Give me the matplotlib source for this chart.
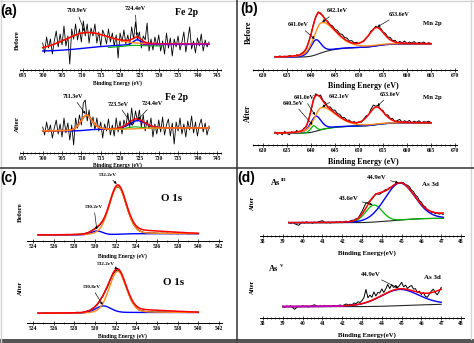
import numpy as np
import matplotlib.pyplot as plt
from matplotlib.lines import Line2D
from matplotlib.patches import Rectangle
from matplotlib.ticker import MultipleLocator

plt.rcParams['font.family'] = ['Liberation Serif', 'DejaVu Serif']
plt.rcParams['font.weight'] = 'bold'

W, H = 474, 343

# ---------------- (a) Fe 2p ----------------
fe_energy = np.linspace(700, 743, 87)
fe_before = [27, 17, 33, 22, 31, 16, 29, 39, 23, 36,
             25, 44, 24, 34, 6, 41, 31, 46, 30, 41,
             28, 49, 34, 46, 27, 42, 34, 46, 27, 38,
             24, 40, 35, 26, 41, 28, 37, 24, 35, 12,
             37, 28, 40, 26, 35, 25, 43, 31, 48, 30,
             38, 22, 34, 30, 47, 19, 31, 20, 33, 24,
             35, 19, 29, 16, 37, 22, 32, 14, 31, 23,
             34, 20, 28, 38, 18, 30, 43, 21, 29, 17,
             32, 24, 36, 19, 30, 23, 28]
fe_after = [26, 18, 31, 21, 28, 15, 25, 33, 19, 29,
            16, 35, 20, 30, 13, 28, 8, 35, 25, 38,
            28, 50, 53, 32, 43, 26, 36, 23, 35, 22,
            31, 15, 29, 22, 34, 18, 28, 17, 35, 21,
            32, 19, 33, 26, 40, 26, 45, 29, 42, 32,
            43, 26, 38, 22, 33, 24, 35, 16, 29, 19,
            33, 21, 36, 18, 28, 34, 17, 30, 9, 31,
            22, 35, 19, 29, 16, 32, 23, 37, 20, 31,
            17, 28, 34, 21, 30, 18, 27]
# fitted peaks: centre (eV), height, fwhm, lorentz fraction[, fwhm on high-BE side]
fe_b_main = (710.9, 15.5, 14.0, 0.3)
fe_b_2p1 = (724.4, 5.0, 2.5, 0.3)
fe_b_minor = (723.0, 1.2, 5.0, 0.0)
fe_b_bg = (19.0, 25.7)
fe_a_main = (711.3, 15.0, 3.5, 0.3)
fe_a_2p1 = (724.4, 8.0, 5.0, 0.3)
fe_a_minor = (723.5, 2.0, 4.0, 0.0)
fe_a_bg = (22.0, 25.0)

# ---------------- (b) Mn 2p ----------------
mn_energy = np.linspace(632.5, 665, 66)
mn_b_resid = [0.5, -0.5, 0.8, -0.3, 0.4, -0.6, 0.7, 0.0, -0.5, 0.6,
              -0.4, 0.5, 0.3, -0.6, 0.4, -0.5, 0.8, 0.0, 1.0, -0.8,
              0.6, -0.4, 1.2, 0.3, 1.8, 1.0, 2.5, 1.5, 3.0, 1.8,
              2.6, 1.0, 2.2, 0.5, 1.2, -0.5, 0.3, -0.8, 0.5, -0.4,
              1.0, -0.6, 1.4, 0.2, 1.6, 0.4, 2.0, 0.8, 2.4, 0.6,
              1.8, -0.4, 1.5, 0.2, 2.2, -0.3, 1.4, 0.5, 1.9, -0.2,
              1.2, 0.3, 1.6, -0.4, 0.9, 0.2]
mn_a_resid = [1.0, -1.5, 0.5, -2.0, 1.2, -0.8, -2.2, 0.6, -1.4, 1.5,
              -0.6, -1.8, 0.8, -1.0, 0.4, -0.6, 1.2, 2.0, -0.5, 2.5,
              0.4, 1.8, -0.3, 2.2, 1.0, 3.0, 1.5, 2.4, 0.8, 2.0,
              0.5, 1.6, -0.4, 1.0, -0.8, 0.4, -1.0, 0.6, 1.5, -0.5,
              2.2, 3.5, 0.8, 2.0, -0.5, 1.4, -0.6, 2.2, 0.5, 1.8,
              -0.8, 1.2, 2.5, -0.4, 1.6, 0.3, 2.0, -0.6, 1.4, 0.2,
              1.8, -0.5, 1.0, 0.4, 1.5, 0.0]
mn_b_641 = (641.0, 15.0, 2.6, 0.3)
mn_b_642 = (642.1, 30.0, 3.6, 0.3, 7.0)
mn_b_653 = (653.6, 17.5, 3.8, 0.3)
mn_b_bg = (12.7, 26.0)
mn_a_640 = (640.5, 6.0, 1.4, 0.2)
mn_a_641 = (641.0, 15.0, 2.6, 0.3)
mn_a_642 = (642.1, 22.0, 3.4, 0.3, 7.0)
mn_a_653 = (653.6, 17.0, 3.8, 0.35)
mn_a_bg = (11.7, 22.0)

# ---------------- (c) O 1s ----------------
o_energy = np.linspace(524.5, 540, 63)
o_b_resid = [0.2, -0.1, 0.1, 0.0, -0.2, 0.1, 0.2, -0.1, 0.0, 0.1,
             -0.1, 0.2, 0.0, -0.2, 0.1, 0.0, 0.2, -0.1, 0.1, 0.3,
             0.2, 0.4, 0.1, -0.2, 0.3, 0.5, 0.2, -0.3, 0.4, 0.6,
             0.2, -0.4, 0.3, 0.5, -0.2, 0.1, 0.3, -0.1, 0.2, 0.0,
             0.1, -0.2, 0.1, 0.0, -0.1, 0.2, 0.0, -0.1, 0.1, 0.0,
             0.2, -0.1, 0.0, 0.1, -0.2, 0.1, 0.0, 0.2, -0.1, 0.0,
             0.1, -0.1, 0.0]
o_a_resid = [0.1, -0.2, 0.0, 0.2, -0.1, 0.1, 0.0, -0.2, 0.1, 0.2,
             -0.1, 0.0, 0.2, -0.1, 0.1, 0.3, 0.0, -0.2, 0.2, 0.4,
             0.1, 0.5, 0.3, -0.2, 0.6, 0.2, 0.4, -0.3, 0.5, 0.3,
             -0.2, 0.4, 0.6, -0.3, 0.2, 0.4, -0.1, 0.3, 0.1, -0.2,
             0.2, 0.0, -0.1, 0.2, 0.1, -0.2, 0.0, 0.1, -0.1, 0.2,
             0.0, -0.2, 0.1, 0.0, 0.2, -0.1, 0.1, 0.0, -0.1, 0.1,
             0.0, 0.1, -0.1]
o_b_530 = (530.2, 4.0, 1.3, 0.2)
o_b_532 = (532.2, 48.0, 1.95, 0.15)
o_b_tail = (535.0, 2.5, 6.0, 0.0)
o_b_bg = (5.7, 7.0)
o_a_530 = (530.8, 7.3, 1.8, 0.2)
o_a_532 = (532.2, 41.5, 1.95, 0.15)
o_a_tail = (535.0, 2.0, 6.0, 0.0)
o_a_bg = (10.0, 10.8)

# ---------------- (d) As 3d ----------------
as3_energy = np.linspace(39.3, 47.1, 79)
as5_energy = np.linspace(39.0, 47.0, 81)
as3_resid = [0.5, -0.8, 0.3, -1.2, -2.0, -2.8, -1.0, 0.4, -0.6, 0.8,
             -0.4, 0.2, -0.9, 0.5, -0.3, 0.6, 1.2, 1.8, 0.3, -0.5,
             0.4, -0.7, 0.2, -0.4, 0.6, -0.2, 0.5, -0.6, 0.3, 0.8,
             -0.3, 0.5, 1.0, 0.2, 0.9, -0.4, 1.5, 2.5, 4.0, 5.0,
             2.0, 0.5, -1.0, -0.5, 0.8, -0.8, -1.5, -0.5, 0.6, 1.2,
             0.3, 0.8, -0.4, 0.2, -0.6, 0.4, -0.3, 0.6, 1.0, 0.5,
             1.8, 2.5, 1.6, 2.8, 2.0, 3.0, 1.5, 2.2, 0.8, 1.4,
             -0.3, 0.6, -0.8, 0.4, -1.0, 0.2, -1.2, -0.4, -1.5]
as5_resid = [0.5, -0.8, 0.6, -0.4, 0.9, -1.2, -2.8, -1.0, 0.3, -0.6,
             0.8, -0.3, 0.5, -0.7, 0.2, 0.9, 1.6, 0.4, -0.5, 0.6,
             -0.4, 0.7, -0.2, 0.5, -0.6, 0.3, 0.8, -0.3, 0.6, 1.0,
             0.2, 0.9, 1.8, 0.5, 1.2, 0.4, 2.0, 1.0, 2.6, 1.5,
             3.0, 5.5, 13.0, 4.0, 6.0, 3.0, 7.5, 2.5, 5.0, 3.5,
             6.5, 2.0, 4.5, 8.0, 3.0, 6.0, 2.5, 4.0, 1.5, 3.5,
             6.5, 2.0, 4.0, 1.0, 3.5, 5.0, 2.0, 3.0, -0.5, 1.5,
             -1.5, 0.5, -3.0, -4.0, -1.0, 1.5, 3.0, -1.0, -4.0, -1.5,
             2.0]
as3_436 = (43.6, 17.0, 1.0, 0.1)
as3_449 = (44.9, 37.0, 1.8, 0.1)
as3_tail = (47.6, 5.0, 2.0, 0.0)
as3_bg = (13.0, 17.4)
as5_449 = (44.9, 16.2, 2.3, 0.2)
as5_tail = (47.5, 16.0, 1.9, 0.3)
as5_bg = (11.3, 13.7)

RED = '#ff0000'
ORANGE = '#ff8c1a'
BLUE = '#0000ff'
GREEN = '#00b400'
PURPLE = '#9a00c8'
BASE = '#262626'


def pv(e, c, h, w, eta, w_hi=None):
    # pseudo-Voigt line shape, optionally wider on the high binding-energy side
    if w_hi is not None:
        w = np.where(e < c, w, w_hi)
    x = (e - c) / w
    return h * (eta / (1 + 4 * x ** 2) + (1 - eta) * np.exp(-4 * np.log(2) * x ** 2))


def shirley(e, signal, lo, hi):
    acc = np.cumsum(signal)
    return lo + (hi - lo) * acc / acc[-1]


fig = plt.figure(figsize=(W / 100, H / 100), dpi=100)


def spec_axes(x0, x1, xlim, top, base, major, minor):
    ax = fig.add_axes([x0 / W, 1 - base / H, (x1 - x0) / W, (base - top) / H])
    ax.set_xlim(*xlim)
    ax.set_ylim(0, base - top)
    ax.patch.set_visible(False)
    for side in ('left', 'right', 'top'):
        ax.spines[side].set_visible(False)
    ax.spines['bottom'].set_linewidth(0.7)
    ax.set_yticks([])
    ax.xaxis.set_major_locator(MultipleLocator(major))
    ax.xaxis.set_minor_locator(MultipleLocator(minor))
    ax.tick_params(axis='x', which='major', direction='inout', length=2.6,
                   width=0.5, pad=0.8, labelsize=4)
    ax.tick_params(axis='x', which='minor', direction='inout', length=1.4, width=0.4)
    return ax


def txt(x, y, s, size, **kw):
    fig.text(x / W, 1 - y / H, s, fontsize=size, ha='center', va='center', **kw)


def callout(ax, label, e, grid, curve, xytext, size):
    y = curve[np.argmin(np.abs(grid - e))]
    ax.annotate(label, xy=(e, y), xytext=xytext, fontsize=size, ha='center',
                va='center', annotation_clip=False,
                arrowprops=dict(arrowstyle='-|>', color='k', lw=0.45,
                                mutation_scale=3.5, shrinkA=0.5, shrinkB=1.0))


# ---- (a) Fe 2p before ----
ax = spec_axes(19.5, 221, (694.0, 746.1), 0, 70, 5, 1)
e = np.linspace(700, 743, 431)
main, p2, minor = pv(e, *fe_b_main), pv(e, *fe_b_2p1), pv(e, *fe_b_minor)
bg = shirley(e, main + p2 + minor, *fe_b_bg)
env = bg + main + p2 + minor
ax.plot(fe_energy, fe_before, color='k', lw=0.6)
m = e <= 727
ax.plot(e[m], (bg + p2)[m], color=BLUE, lw=1.0)
m = (e >= 717) & (e <= 731)
ax.plot(e[m], (bg + minor)[m] - 1.5, color=GREEN, lw=0.8)
ax.plot(e, bg + main, color=ORANGE, lw=1.0)
ax.plot(e, env, color=RED, lw=1.1)
m = e >= 726
ax.plot(e[m], bg[m], color=PURPLE, lw=1.1)
callout(ax, '710.9eV', 710.9, e, env, (708.8, 59), 4.4)
callout(ax, '724.4eV', 724.4, e, env, (723.9, 61), 4.4)
ax.text(737.2, 57.3, 'Fe 2p', fontsize=7, ha='center', va='center')
txt(117.8, 83, 'Binding Energy (eV)', 4)
txt(17, 40, 'Before', 5, rotation=90)

# ---- (a) Fe 2p after ----
ax = spec_axes(19.5, 221, (694.0, 746.1), 85, 153, 5, 1)
main, p2, minor = pv(e, *fe_a_main), pv(e, *fe_a_2p1), pv(e, *fe_a_minor)
bg = shirley(e, main + p2 + minor, *fe_a_bg)
env = bg + main + p2 + minor
ax.plot(fe_energy, fe_after, color='k', lw=0.6)
ax.plot(e, bg + p2, color=BLUE, lw=1.0)
m = (e >= 717) & (e <= 731)
ax.plot(e[m], (bg + minor)[m], color=GREEN, lw=0.8)
ax.plot(e, env, color=RED, lw=1.1)
ax.plot(e, bg + main, color=ORANGE, lw=1.0)
callout(ax, '711.3eV', 711.3, e, env, (707.8, 56.3), 4.4)
callout(ax, '723.5eV', 723.5, e, bg + minor, (719.5, 48.7), 4.4)
callout(ax, '724.4eV', 724.4, e, bg + p2, (728.4, 49.2), 4.4)
ax.text(734.6, 56, 'Fe 2p', fontsize=7, ha='center', va='center')
txt(117.8, 165, 'Binding Energy (eV)', 4)
txt(17, 124, 'After', 5, rotation=90)

# ---- (b) Mn 2p before ----
ax = spec_axes(252.9, 456.9, (627.9, 670.4), 0, 70, 5, 1)
e = np.linspace(632.5, 665, 326)
p641, p642, p653 = pv(e, *mn_b_641), pv(e, *mn_b_642), pv(e, *mn_b_653)
bg = shirley(e, p641 + p642 + p653, *mn_b_bg)
env = bg + p641 + p642 + p653
ax.plot(mn_energy, env[::5] + np.array(mn_b_resid), color='k', lw=0.7)
ax.plot(e, bg, color=BASE, lw=0.8)
ax.plot(e, bg + p641, color=BLUE, lw=1.0)
ax.plot(e, bg + p642, color=ORANGE, lw=1.0)
ax.plot(e, env, color=RED, lw=1.1)
callout(ax, '642.1eV', 642.1, e, bg + p642, (645.4, 59), 4.4)
callout(ax, '641.0eV', 641.0, e, bg + p641, (637.4, 45), 4.4)
callout(ax, '653.6eV', 653.6, e, env, (658.3, 55.7), 4.4)
ax.text(665.2, 46, 'Mn 2p', fontsize=4.8, ha='center', va='center')
txt(363.7, 86, 'Binding Energy (eV)', 5.7)
txt(248.7, 32.5, 'Before', 6, rotation=90)

# ---- (b) Mn 2p after ----
ax = spec_axes(252.9, 456.9, (627.9, 670.4), 88, 145, 5, 1)
p640, p641 = pv(e, *mn_a_640), pv(e, *mn_a_641)
p642, p653 = pv(e, *mn_a_642), pv(e, *mn_a_653)
bg = shirley(e, p640 + p641 + p642 + p653, *mn_a_bg)
env = bg + p640 + p641 + p642 + p653
ax.plot(mn_energy, env[::5] + np.array(mn_a_resid), color='k', lw=0.7)
ax.plot(e, bg, color=BASE, lw=0.8)
ax.plot(e, bg + p640, color=GREEN, lw=0.9)
ax.plot(e, bg + p641, color=BLUE, lw=1.0)
ax.plot(e, bg + p642, color=ORANGE, lw=1.0)
ax.plot(e, env, color=RED, lw=1.1)
callout(ax, '641.0eV', 641.0, e, bg + p641, (638.5, 47.3), 4.4)
callout(ax, '642.1eV', 642.1, e, bg + p642, (645.8, 48.3), 4.4)
callout(ax, '640.5eV', 640.5, e, bg + p640, (636.4, 41.7), 4.4)
callout(ax, '653.6eV', 653.6, e, env, (656.5, 50.7), 4.4)
ax.text(665.2, 47.3, 'Mn 2p', fontsize=4.8, ha='center', va='center')
txt(363.7, 162, 'Binding Energy (eV)', 5.7)
txt(248, 113, 'After', 5.5, rotation=90)

# ---- (c) O 1s before ----
ax = spec_axes(26.8, 222.0, (523.4, 542.3), 170, 240.7, 2, 1)
e = np.linspace(524.5, 540, 311)
p530, p532, tail = pv(e, *o_b_530), pv(e, *o_b_532), pv(e, *o_b_tail)
bg = shirley(e, p530 + p532, *o_b_bg)
env = bg + p530 + p532 + tail
ax.plot(o_energy, (bg + p530 + p532)[::5] + np.array(o_b_resid), color='k', lw=0.9)
ax.plot(e, bg + p530, color=BLUE, lw=1.0)
ax.plot(e, bg + p532, color=ORANGE, lw=1.0)
ax.plot(e, env, color=RED, lw=1.1)
callout(ax, '532.2eV', 532.2, e, env, (531.2, 65.7), 3.8)
callout(ax, '530.2eV', 530.2, e, bg + p530, (529.9, 33.4), 3.8)
ax.text(537.4, 42.4, 'O 1s', fontsize=8, ha='center', va='center')
txt(122.5, 255.7, 'Binding Energy (eV)', 4)
txt(20, 211.7, 'Before', 5, rotation=90)

# ---- (c) O 1s after ----
ax = spec_axes(26.8, 222.0, (523.4, 542.3), 258, 323.3, 2, 1)
p530, p532, tail = pv(e, *o_a_530), pv(e, *o_a_532), pv(e, *o_a_tail)
bg = shirley(e, p530 + p532, *o_a_bg)
env = bg + p530 + p532 + tail
ax.plot(o_energy, (bg + p530 + p532)[::5] + np.array(o_a_resid), color='k', lw=0.9)
ax.plot(e, bg + p530, color=BLUE, lw=1.0)
ax.plot(e, bg + p532, color=ORANGE, lw=1.0)
ax.plot(e, env, color=RED, lw=1.1)
callout(ax, '532.2eV', 532.2, e, env, (531.0, 59.3), 3.8)
callout(ax, '530.8eV', 530.8, e, bg + p530, (529.7, 36), 3.8)
ax.text(537.6, 40.6, 'O 1s', fontsize=8, ha='center', va='center')
txt(122.5, 335.7, 'Binding Energy (eV)', 4)
txt(20, 288, 'After', 4.5, rotation=90)

# ---- (d) As 3d, As(III) ----
ax = spec_axes(260.2, 463.6, (37.86, 48.13), 170, 235.7, 1, 0.2)
e = np.linspace(39.3, 47.1, 391)
p436, p449, tail = pv(e, *as3_436), pv(e, *as3_449), pv(e, *as3_tail)
bg = shirley(e, p436 + p449 + tail, *as3_bg)
env = bg + p436 + p449 + tail
ax.plot(as3_energy, env[::5] + np.array(as3_resid), color='k', lw=0.7)
ax.plot(e, bg, color=BASE, lw=0.8)
ax.plot(e, bg + p436, color=GREEN, lw=0.9)
ax.plot(e, bg + p449, color=BLUE, lw=1.0)
ax.plot(e, env, color=RED, lw=1.1)
callout(ax, '44.9eV', 44.9, e, bg + p449, (43.76, 58.4), 4.9)
callout(ax, '43.6eV', 43.6, e, bg + p436, (42.33, 37.4), 4.9)
ax.text(46.45, 50.7, 'As 3d', fontsize=5, ha='center', va='center')
ax.text(38.62, 53, 'As', fontsize=6, ha='center', va='center')
ax.text(39.02, 56, 'III', fontsize=3.5, ha='center', va='center')
txt(366.7, 253, 'Binding Energy(eV)', 4.9)
txt(252, 203, 'After', 4.5, rotation=90)

# ---- (d) As 3d, As(V) ----
ax = spec_axes(260.2, 463.6, (37.86, 48.13), 256, 318, 1, 0.2)
e = np.linspace(39.0, 47.0, 401)
p449, tail = pv(e, *as5_449), pv(e, *as5_tail)
bg = shirley(e, p449 + tail, *as5_bg)
env = bg + p449 + tail
ax.plot(as5_energy, env[::5] + np.array(as5_resid), color='k', lw=0.7)
ax.plot(e, bg, color=BASE, lw=0.8)
ax.plot(e, bg + p449, color=BLUE, lw=1.0)
ax.plot(e, env, color=RED, lw=1.1)
m = e <= 42.0
ax.plot(e[m], env[m], color='#c000c8', lw=1.1)
callout(ax, '44.9eV', 44.9, e, env, (43.42, 43.7), 4.9)
ax.text(46.54, 40.7, 'As 3d', fontsize=5, ha='center', va='center')
ax.text(38.54, 49, 'As', fontsize=6, ha='center', va='center')
ax.text(38.92, 52, 'V', fontsize=3.5, ha='center', va='center')
txt(366.7, 335, 'Binding Energy(eV)', 4.9)
txt(252, 287, 'After', 4.5, rotation=90)

# panel letters
for x, y, s in [(9, 10.5, '(a)'), (248.7, 9, '(b)'), (8.3, 178.3, '(c)'), (246, 178, '(d)')]:
    txt(x, y, s, 10, family='Liberation Sans')


# frame and separators
def fig_line(x0, y0, x1, y1, color, lw):
    fig.add_artist(Line2D([x0 / W, x1 / W], [1 - y0 / H, 1 - y1 / H],
                          transform=fig.transFigure, color=color, lw=lw))


fig_line(0, 0.7, W, 0.7, '#d4d4d4', 1.0)
fig_line(0.7, 0, 0.7, H, '#d4d4d4', 1.0)
fig_line(471, 0, 471, 339, '#d4d4d4', 1.0)
fig_line(236.5, 0, 236.5, 339.5, '#333333', 1.1)
fig_line(0, 167.5, W, 167.5, '#333333', 1.1)
fig.add_artist(Rectangle((0, 0), 1, 3.6 / H, transform=fig.transFigure,
                         color='#555555', lw=0))

fig.savefig('out.png', dpi=100)
